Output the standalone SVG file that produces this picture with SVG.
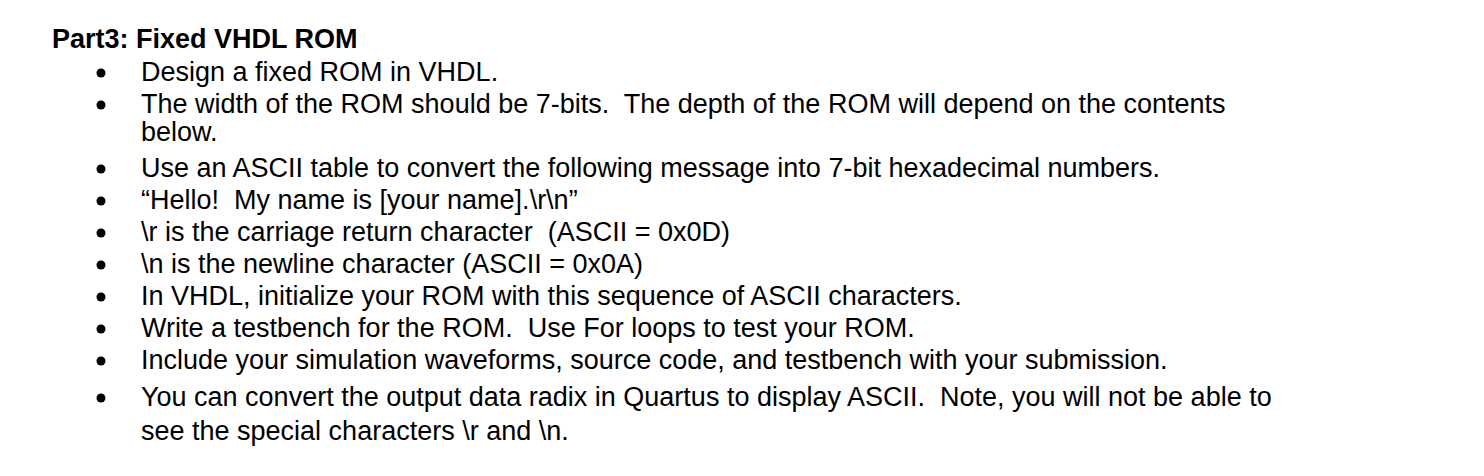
<svg xmlns="http://www.w3.org/2000/svg" width="1484" height="476" viewBox="0 0 1484 476">
<style>
text{font-family:"Liberation Sans",Arial,sans-serif;font-size:27px;fill:#000;white-space:pre}
.b{font-weight:bold}
circle{fill:#000}
</style>
<rect width="1484" height="476" fill="#fff"/>
<text class="b" x="52" y="48">Part3: Fixed VHDL ROM</text>
<g id="items" xml:space="preserve">
<circle cx="101" cy="73" r="4.5"/><text x="141" y="81">Design a fixed ROM in VHDL.</text>
<circle cx="101" cy="105" r="4.5"/><text x="141" y="113">The width of the ROM should be 7-bits.  The depth of the ROM will depend on the contents</text>
<text x="141" y="141">below.</text>
<circle cx="101" cy="169" r="4.5"/><text x="141" y="177">Use an ASCII table to convert the following message into 7-bit hexadecimal numbers.</text>
<circle cx="101" cy="201" r="4.5"/><text x="141" y="209">“Hello!  My name is [your name].\r\n”</text>
<circle cx="101" cy="233" r="4.5"/><text x="141" y="241">\r is the carriage return character  (ASCII = 0x0D)</text>
<circle cx="101" cy="265" r="4.5"/><text x="141" y="273">\n is the newline character (ASCII = 0x0A)</text>
<circle cx="101" cy="297" r="4.5"/><text x="141" y="305">In VHDL, initialize your ROM with this sequence of ASCII characters.</text>
<circle cx="101" cy="329" r="4.5"/><text x="141" y="337">Write a testbench for the ROM.  Use For loops to test your ROM.</text>
<circle cx="101" cy="361" r="4.5"/><text x="141" y="369">Include your simulation waveforms, source code, and testbench with your submission.</text>
<circle cx="101" cy="398" r="4.5"/><text x="141" y="406">You can convert the output data radix in Quartus to display ASCII.  Note, you will not be able to</text>
<text x="141" y="440">see the special characters \r and \n.</text>
</g>
</svg>
